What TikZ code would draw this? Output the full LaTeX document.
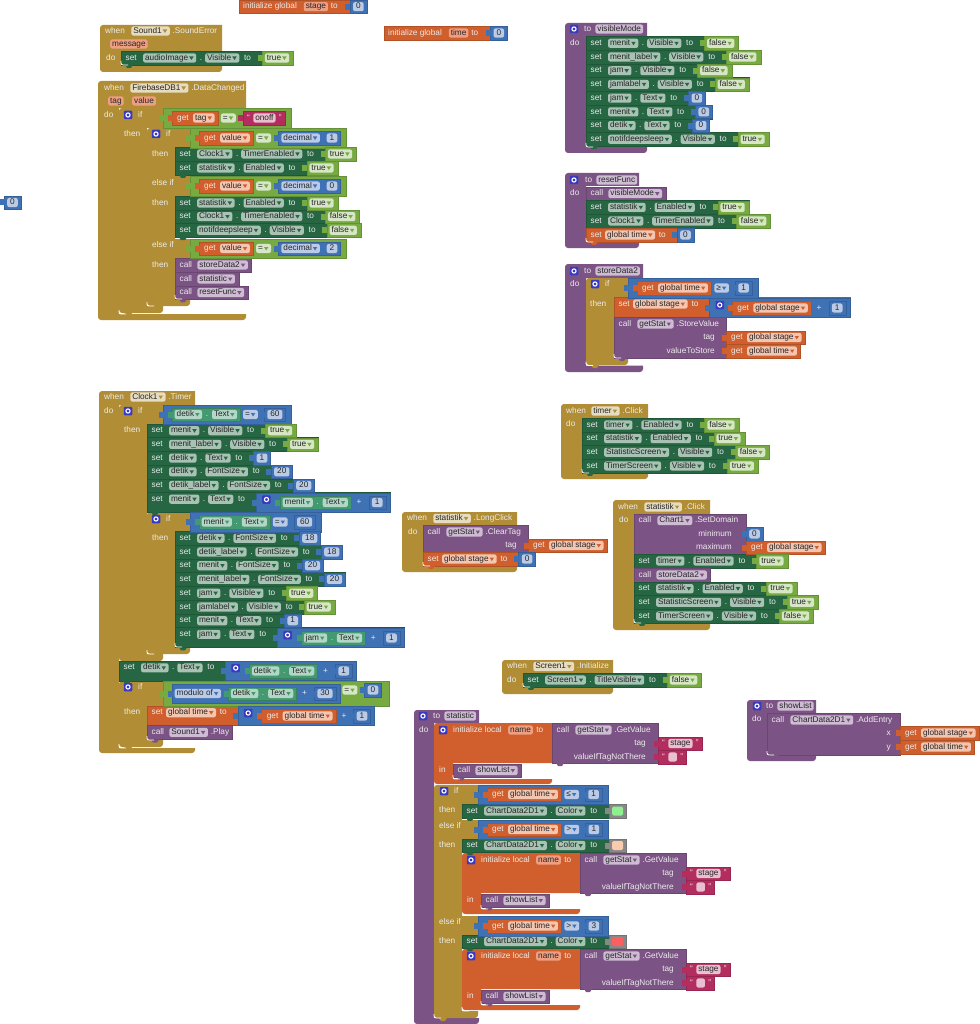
\documentclass[tikz,border=0pt]{standalone}
\usepackage{fontspec}
\setmainfont{Liberation Sans}
\pgfdeclarelayer{b0}\pgfdeclarelayer{b1}\pgfdeclarelayer{b2}
\pgfdeclarelayer{b3}\pgfdeclarelayer{b4}\pgfdeclarelayer{b5}
\pgfsetlayers{b0,b1,b2,b3,b4,b5,main}
\definecolor{bgol}{HTML}{B18E35}\definecolor{chol}{HTML}{E6DCC2}
\definecolor{bgpu}{HTML}{7C5385}\definecolor{chpu}{HTML}{CDBCD2}
\definecolor{bgor}{HTML}{D05F2D}\definecolor{chor}{HTML}{F3C6B2}
\definecolor{bgdg}{HTML}{266643}\definecolor{chdg}{HTML}{A8C2B3}
\definecolor{bgte}{HTML}{439970}\definecolor{chte}{HTML}{B4D6C6}
\definecolor{bglg}{HTML}{77AB41}\definecolor{chlg}{HTML}{D6E6C6}
\definecolor{bgbl}{HTML}{3F71B5}\definecolor{chbl}{HTML}{BBCBE6}
\definecolor{bgpk}{HTML}{B32D5E}\definecolor{chpk}{HTML}{E8C0CF}
\definecolor{bggy}{HTML}{888888}\definecolor{chgy}{HTML}{CCCCCC}
\definecolor{parc}{HTML}{EE9F82}\definecolor{gearc}{HTML}{3A3AC0}
\definecolor{swgreen}{HTML}{8EF08E}\definecolor{swpeach}{HTML}{F8CBAE}\definecolor{swred}{HTML}{FB6060}
\tikzset{
  blabel/.style={text=white!92!black,font=\fontsize{8.25}{9}\selectfont,inner sep=0pt,text height=6pt,text depth=1.7pt,anchor=west},
  chipn/.style={text=black!85,font=\fontsize{8.25}{9}\selectfont,inner xsep=2pt,inner ysep=.7pt,text height=6pt,text depth=1.7pt,anchor=west,rounded corners=2pt},
  gearn/.style={fill=gearc,inner sep=0pt,minimum size=8.5pt,rounded corners=1pt},
}
\newif\ifbump\bumptrue
\newcount\nc
\newdimen\curd
\gdef\cx{0}\def\cy{0}\def\hh{6.7}\def\dep{1}\def\curk{pu}
\makeatletter
\newcommand\adv{\pgfextractx{\curd}{\pgfpointanchor{n\the\nc}{east}}\edef\tmpx{\strip@pt\curd}\global\let\cx\tmpx}
\makeatother
\newcommand\pad[1]{\pgfmathsetmacro\tmpx{\cx+#1}\global\let\cx\tmpx}
% tokens of a row
\newcommand\lab[2][3]{\global\advance\nc by 1 \node[blabel] (n\the\nc) at (\cx+#1,\cy) {#2};\adv}
\newcommand\chp[2][3]{\global\advance\nc by 1 \node[chipn,fill=ch\curk] (n\the\nc) at (\cx+#1,\cy) {#2};\adv}
\newcommand\prmf[2][3]{\global\advance\nc by 1 \node[chipn,fill=parc] (n\the\nc) at (\cx+#1,\cy) {#2};\adv}
\newcommand\fld[2][3]{\global\advance\nc by 1 \node[chipn,fill=ch\curk] (n\the\nc) at (\cx+#1,\cy) {#2\kern6pt};\adv
  \fill[bg\curk] (\cx-7.2,\cy-1.5) -- (\cx-2.8,\cy-1.5) -- (\cx-5,\cy+2) -- cycle;}
\newcommand\gearat[2]{\global\advance\nc by 1 \node[gearn] (n\the\nc) at (#1,#2) {};\draw[white,line width=1.1pt] (n\the\nc) circle (2.1pt);}
\newcommand\gearf{\pgfmathsetmacro\tmpx{\cx+10.2}\gearat{\tmpx}{\cy-3}\adv}
\newcommand\swatch[1]{\global\advance\nc by 1 \node[fill=#1,anchor=west,inner sep=0pt,minimum width=11pt,minimum height=9pt,rounded corners=1.5pt] (n\the\nc) at (\cx+2.5,\cy) {};\adv}
\newcommand\tl[3]{\global\advance\nc by 1 \node[blabel] (n\the\nc) at (#1,#2) {#3};}
\newcommand\rl[3]{\global\advance\nc by 1 \node[blabel,anchor=east] (n\the\nc) at (#1,#2) {#3};}
\newcommand\prm[3]{\global\advance\nc by 1 \node[chipn,fill=parc] (n\the\nc) at (#1,#2) {#3};}
% value block, drawn behind its tokens
\newcommand\sub[3][11]{\begingroup\let\myhh\hh\def\hh{6.7}\let\myy\cy\edef\mylay{b\dep}\edef\dep{\the\numexpr\dep+1}\def\curk{#2}%
  \pgfmathsetmacro\mystart{\cx+#1}\global\let\cx\mystart
  #3
  \pgfmathsetmacro\myend{\cx+3}\global\let\cx\myend
  \begin{pgfonlayer}{\mylay}
  \filldraw[fill=bg#2,draw=bg#2!85!black,line width=.3pt] (\mystart,\myy-\myhh) rectangle (\myend,\myy+\myhh);
  \fill[bg#2] (\mystart-4.5,\myy-3) rectangle (\mystart+.5,\myy+3);
  \end{pgfonlayer}\endgroup}
\newcommand\at[3]{\begingroup\def\dep{2}\gdef\cx{#1}\def\cy{#2}#3\endgroup}
\newcommand\test[5][9.7]{\begingroup\def\dep{2}\gdef\cx{#3}\def\cy{#4}\def\hh{#1}\sub[0]{#2}{#5}\endgroup}
% statement block
\newcommand\blk[7][]{\begingroup\def\curk{#2}\def\dep{2}\gdef\cx{#3}\def\cy{#6}#7%
  \def\rr{#1}\ifx\rr\empty\let\rr\cx\fi
  \begin{pgfonlayer}{b1}
  \filldraw[fill=bg#2,draw=bg#2!85!black,line width=.3pt] (#3,#4) rectangle (\rr,#5);
  \ifbump\fill[bg#2] (#3+4,#5) -- (#3+6,#5+3) -- (#3+10,#5+3) -- (#3+12,#5) -- cycle;\fi
  \end{pgfonlayer}\endgroup}
\newcommand\hdr[4]{\begingroup\def\curk{#1}\gdef\cx{#2}\def\cy{#3}#4\endgroup}
% C-shaped block: k, x0, y0, header right, header bottom, column right, bar top, bar right, bottom
\newcommand\cont[9]{\begin{pgfonlayer}{b0}
  \fill[bg#1,rounded corners=3pt] (#4,#3) -- (#2,#3) -- (#2,#9) -- (#8,#9) [sharp corners] -- (#8,#7) -- (#6,#7) -- (#6,#5) -- (#4,#5) -- cycle;
  \ifbump\fill[bg#1] (#2+5,#9) -- (#2+7,#9+3) -- (#2+11,#9+3) -- (#2+13,#9) -- cycle;\fi
  \end{pgfonlayer}
  \draw[white,line width=.8pt,rounded corners=2pt] (#6,#7-4) -- (#6,#7) -- (#6+7,#7);}
\newcommand\contn[9]{\begingroup\bumpfalse\cont{#1}{#2}{#3}{#4}{#5}{#6}{#7}{#8}{#9}\endgroup}
\newcommand\elif[4]{\begin{pgfonlayer}{b0}\fill[bgol] (#1,#3) rectangle (#2,#4);\end{pgfonlayer}}
% values
\newcommand\vb[2][11]{\sub[#1]{lg}{\fld[2.5]{#2}\pad{1}}}
\newcommand\vnum[2][11]{\sub[#1]{bl}{\chp[3]{\kern1pt#2\kern1pt}}}
\newcommand\vget[2][9]{\sub[#1]{or}{\lab[5]{get}\fld[4]{#2}}}
\newcommand\vstr[2][7]{\sub[#1]{pk}{\lab[4]{“}\chp[3]{#2}\lab[3]{”}}}
\newcommand\vcomp[3][9]{\sub[#1]{te}{\fld[2.5]{#2}\lab[3.3]{.}\fld[3.5]{#3}}}
\newcommand\vcol[1]{\sub[12]{gy}{\swatch{#1}}}
\newcommand\vdec[1]{\sub[7]{bl}{\fld[3]{decimal}\chp[6.5]{\kern1pt#1\kern1pt}}}
\newcommand\mathb[2]{{\def\hh{9.6}\sub[11]{bl}{\gearf #1\lab[5.5]{+}\vnum[7]{#2}\pad{1}}}}
% rows
\newcommand\setcp[6][0]{\blk{dg}{#2}{#3-6.85}{#3+6.85+#1}{#3}{\lab[4.5]{set}\fld[6]{#4}\lab[3.3]{.}\fld[2.5]{#5}\lab[4.5]{to}#6}}
\newcommand\setg[5][0]{\blk{or}{#2}{#3-6.85}{#3+6.85+#1}{#3}{\lab[4.5]{set}\fld[3]{#4}\lab[3.5]{to}#5}}
\newcommand\callr[3]{\blk{pu}{#1}{#2-6.85}{#2+6.85}{#2}{\lab[4.5]{call}\fld[5]{#3}\pad{3.5}}}
\newcommand\initg[4]{\begingroup\bumpfalse\blk{or}{#1}{#2-6.7}{#2+6.7}{#2}{\lab[4]{initialize global}\prmf[6.5]{#3}\lab[2.5]{to}\vnum[12]{#4}}\endgroup}
% initialize local + getStat.GetValue + showList
\newcommand\initloc[2]{%
  \begingroup\bumpfalse\cont{or}{#1}{#2}{#1+118}{#2+40}{#1+19}{#2+56}{#1+118}{#2+61}\endgroup
  \gearat{#1+9}{#2+7}
  \hdr{or}{#1+19}{#2+7}{\lab[0]{initialize local}\prmf[6]{name}\lab[3]{to}}
  \tl{#1+5}{#2+47}{in}
  \callr{#1+19}{#2+47.5}{showList}
  \blk[#1+224]{pu}{#1+118}{#2}{#2+40}{#2+7}{\lab[4.5]{call}\fld[6]{getStat}\lab[2.5]{.GetValue}}
  \rl{#1+212}{#2+20.5}{tag}
  \rl{#1+212}{#2+34}{valueIfTagNotThere}
  \at{#1+224}{#2+20.5}{\vstr[0]{stage}}
  \at{#1+224}{#2+34}{\vstr[0]{\phantom{n}}}}
\begin{document}
\begin{tikzpicture}[x=1pt,y=-1pt]
\begin{pgfonlayer}{b0}\fill[white] (0,0) rectangle (979,1024);\end{pgfonlayer}
\useasboundingbox (0,0) rectangle (979,1024);
% globals
\initg{239}{6.7}{stage}{0}
\initg{384}{33}{time}{0}
\test[6.7]{bl}{4}{202.5}{\chp[3]{\kern1pt0\kern1pt}}
% Sound1.SoundError
\contn{ol}{100}{25}{222}{52}{121}{65}{222}{72}
\hdr{ol}{101}{31}{\lab[4]{when}\fld[6]{Sound1}\lab[2.5]{.SoundError}}
\prm{110}{44}{message}
\tl{106}{58}{do}
\setcp{121}{58}{audioImage}{Visible}{\vb{true}}
% FirebaseDB1.DataChanged
\contn{ol}{98}{81}{246}{108}{119}{314}{246}{320}
\hdr{ol}{98}{88}{\lab[6]{when}\fld[6]{FirebaseDB1}\lab[2.5]{.DataChanged}}
\prm{108}{101}{tag}
\prm{132}{101}{value}
\tl{104}{115}{do}
\cont{ol}{119}{108}{163}{128}{147}{306}{163}{313}
\gearat{128}{115}
\tl{138}{115}{if}
\tl{124}{134}{then}
\test[10]{lg}{163}{118}{\vget{tag}\fld[3]{=}\vstr{onoff}\pad{3}}
\cont{ol}{147}{128}{190}{148}{175}{299}{190}{306}
\gearat{156}{134}
\tl{166}{134}{if}
\tl{152}{154}{then}
\tl{152}{183}{else if}
\tl{152}{203}{then}
\tl{152}{245}{else if}
\tl{152}{265}{then}
\elif{175}{190}{176}{196}
\elif{175}{190}{239}{259}
\test[9.7]{lg}{190}{138}{\vget{value}\fld[3]{=}\vdec{1}\pad{3}}
\setcp{175}{154}{Clock1}{TimerEnabled}{\vb{true}}
\setcp{175}{168}{statistik}{Enabled}{\vb{true}}
\test[9.7]{lg}{190}{186}{\vget{value}\fld[3]{=}\vdec{0}\pad{3}}
\setcp{175}{203}{statistik}{Enabled}{\vb{true}}
\setcp{175}{216.6}{Clock1}{TimerEnabled}{\vb{false}}
\setcp{175}{230.3}{notifdeepsleep}{Visible}{\vb{false}}
\test[9.7]{lg}{190}{248.5}{\vget{value}\fld[3]{=}\vdec{2}\pad{3}}
\callr{175}{265}{storeData2}
\callr{175}{279}{statistic}
\callr{175}{292.5}{resetFunc}
% Clock1.Timer
\contn{ol}{99}{391}{195}{405}{119}{748}{195}{753}
\hdr{ol}{99}{397}{\lab[5]{when}\fld[6]{Clock1}\lab[2.5]{.Timer}}
\tl{104}{411}{do}
\cont{ol}{119}{405}{163}{424}{147}{654}{163}{661}
\gearat{128}{411}
\tl{138}{411}{if}
\tl{124}{430.7}{then}
\test{bl}{163}{414.5}{\vcomp{detik}{Text}\fld[2.5]{=}\vnum[6]{60}\pad{2.5}}
\setcp{147}{430.7}{menit}{Visible}{\vb{true}}
\setcp{147}{444.4}{menit\_label}{Visible}{\vb{true}}
\setcp{147}{458.1}{detik}{Text}{\vnum{1}}
\setcp{147}{471.8}{detik}{FontSize}{\vnum{20}}
\setcp{147}{485.5}{detik\_label}{FontSize}{\vnum{20}}
\setcp[6]{147}{499.2}{menit}{Text}{\def\cy{502.5}\mathb{\vcomp{menit}{Text}}{1}}
\cont{ol}{147}{512}{190}{532}{175}{647}{190}{654}
\gearat{156}{519}
\tl{166}{519}{if}
\tl{152}{538}{then}
\test{bl}{190}{522}{\vcomp{menit}{Text}\fld[2.5]{=}\vnum[6]{60}\pad{2.5}}
\setcp{175}{538.3}{detik}{FontSize}{\vnum{18}}
\setcp{175}{552}{detik\_label}{FontSize}{\vnum{18}}
\setcp{175}{565.7}{menit}{FontSize}{\vnum{20}}
\setcp{175}{579.4}{menit\_label}{FontSize}{\vnum{20}}
\setcp{175}{593.2}{jam}{Visible}{\vb{true}}
\setcp{175}{607}{jamlabel}{Visible}{\vb{true}}
\setcp{175}{620.7}{menit}{Text}{\vnum{1}}
\setcp[6]{175}{634.4}{jam}{Text}{\def\cy{638}\mathb{\vcomp{jam}{Text}}{1}}
\setcp[6]{119}{667.8}{detik}{Text}{\def\cy{671}\mathb{\vcomp{detik}{Text}}{1}}
\cont{ol}{119}{681}{163}{706}{147}{740}{163}{747}
\gearat{128}{687}
\tl{138}{687}{if}
\tl{124}{712.7}{then}
\test[12.5]{lg}{163}{693.5}{{\def\hh{9.8}\sub[9]{bl}{\fld[2.5]{modulo of}\vcomp[7]{detik}{Text}\lab[5.5]{+}\vnum[7]{30}\pad{1}}}\def\cy{690}\fld[2.5]{=}\vnum[7]{0}\pad{5}}
\setg[6]{147}{712.7}{global time}{\def\cy{716}\mathb{\vget{global time}}{1}}
\blk{pu}{147}{725.6}{739.5}{732.4}{\lab[4.5]{call}\fld[5]{Sound1}\lab[2.5]{.Play}\pad{3}}
% visibleMode
\contn{pu}{565}{23}{647}{36}{586}{147}{647}{153}
\gearat{574}{29}
\hdr{pu}{584}{29}{\lab[0]{to}\chp[4]{visibleMode}}
\tl{570}{43}{do}
\setcp{586}{43.3}{menit}{Visible}{\vb{false}}
\setcp{586}{57}{menit\_label}{Visible}{\vb{false}}
\setcp{586}{70.7}{jam}{Visible}{\vb{false}}
\setcp{586}{84.4}{jamlabel}{Visible}{\vb{false}}
\setcp{586}{98.1}{jam}{Text}{\vnum{0}}
\setcp{586}{111.9}{menit}{Text}{\vnum{0}}
\setcp{586}{125.6}{detik}{Text}{\vnum{0}}
\setcp{586}{139.3}{notifdeepsleep}{Visible}{\vb{true}}
% resetFunc
\contn{pu}{565}{173}{639}{186}{586}{242}{639}{248}
\gearat{574}{180}
\hdr{pu}{585}{180}{\lab[0]{to}\chp[4]{resetFunc}}
\tl{570}{193.5}{do}
\callr{586}{193.7}{visibleMode}
\setcp{586}{207.4}{statistik}{Enabled}{\vb{true}}
\setcp{586}{221}{Clock1}{TimerEnabled}{\vb{false}}
\setg{586}{235}{global time}{\vnum{0}}
% storeData2
\contn{pu}{565}{264}{643}{278}{586}{365.5}{643}{372}
\gearat{574}{271}
\hdr{pu}{584}{271}{\lab[0]{to}\chp[4]{storeData2}}
\tl{570}{284}{do}
\cont{ol}{586}{278}{628}{298}{614}{358}{628}{365}
\gearat{595}{284}
\tl{605}{284}{if}
\tl{590}{304}{then}
\test{bl}{628}{288}{\vget{global time}\fld[3]{≥}\vnum[6]{1}\pad{3}}
\setg[6]{614}{304}{global stage}{\def\cy{308}\mathb{\vget[8]{global stage}}{1}}
\blk[726]{pu}{614}{317}{358}{324}{\lab[4.5]{call}\fld[6]{getStat}\lab[2.5]{.StoreValue}}
\rl{715}{337.5}{tag}
\rl{715}{351}{valueToStore}
\at{726}{337.5}{\vget[0]{global stage}}
\at{726}{351}{\vget[0]{global time}}
% timer.Click
\contn{ol}{561}{404}{648}{418}{582}{473}{648}{479}
\hdr{ol}{561}{411}{\lab[5]{when}\fld[5]{timer}\lab[2.5]{.Click}}
\tl{566}{424.5}{do}
\setcp{582}{425}{timer}{Enabled}{\vb{false}}
\setcp{582}{438.6}{statistik}{Enabled}{\vb{true}}
\setcp{582}{452.3}{StatisticScreen}{Visible}{\vb{false}}
\setcp{582}{466}{TimerScreen}{Visible}{\vb{true}}
% statistik.LongClick
\contn{ol}{402}{512}{517}{525}{423}{566}{517}{572}
\hdr{ol}{402}{518.5}{\lab[5]{when}\fld[6]{statistik}\lab[2.5]{.LongClick}}
\tl{408}{532}{do}
\blk[528]{pu}{423}{525}{552}{532}{\lab[4.5]{call}\fld[6]{getStat}\lab[2.5]{.ClearTag}}
\rl{517}{545.5}{tag}
\at{528}{545.5}{\vget[0]{global stage}}
\setg{423}{559}{global stage}{\vnum{0}}
% statistik.Click
\contn{ol}{613}{500}{710}{514}{634}{623}{710}{630}
\hdr{ol}{613}{507}{\lab[5]{when}\fld[6]{statistik}\lab[2.5]{.Click}}
\tl{619}{520}{do}
\blk[746]{pu}{634}{514}{554}{520.5}{\lab[4.5]{call}\fld[6]{Chart1}\lab[2.5]{.SetDomain}}
\rl{732}{534}{minimum}
\rl{732}{547.5}{maximum}
\at{746}{534}{\vnum[0]{0}}
\at{746}{547.5}{\vget[0]{global stage}}
\setcp{634}{561}{timer}{Enabled}{\vb{true}}
\callr{634}{575}{storeData2}
\setcp{634}{588.7}{statistik}{Enabled}{\vb{true}}
\setcp{634}{602.3}{StatisticScreen}{Visible}{\vb{true}}
\setcp{634}{616}{TimerScreen}{Visible}{\vb{false}}
% Screen1.Initialize
\contn{ol}{502}{660}{613}{673}{523}{687}{613}{694}
\hdr{ol}{502}{666.5}{\lab[5]{when}\fld[6]{Screen1}\lab[2.5]{.Initialize}}
\tl{507}{680}{do}
\setcp{523}{680}{Screen1}{TitleVisible}{\vb{false}}
% showList
\contn{pu}{747}{700}{816}{713}{767}{755}{816}{761}
\gearat{757}{706}
\hdr{pu}{766}{706}{\lab[0]{to}\chp[4]{showList}}
\tl{752}{719}{do}
\blk[900]{pu}{767}{713}{755}{720}{\lab[4.5]{call}\fld[6]{ChartData2D1}\lab[2.5]{.AddEntry}}
\rl{891}{733}{x}
\rl{891}{747}{y}
\at{900}{733}{\vget[0]{global stage}}
\at{900}{747}{\vget[0]{global time}}
% statistic
\contn{pu}{414}{710}{479}{723}{434}{1018}{479}{1024}
\gearat{423}{716}
\hdr{pu}{433}{716}{\lab[0]{to}\chp[4]{statistic}}
\tl{419}{730}{do}
\initloc{434}{723}
\cont{ol}{434}{785}{478}{805}{462}{1011}{478}{1018}
\gearat{444}{791}
\tl{454}{791}{if}
\tl{439}{810}{then}
\tl{439}{826}{else if}
\tl{439}{845}{then}
\tl{439}{922}{else if}
\tl{439}{941}{then}
\elif{462}{478}{820}{840}
\elif{462}{478}{916}{936}
\test{bl}{478}{794.5}{\vget{global time}\fld[3]{≤}\vnum[6]{1}\pad{3}}
\setcp{462}{811}{ChartData2D1}{Color}{\vcol{swgreen}}
\test{bl}{478}{829.5}{\vget{global time}\fld[3]{>}\vnum[6]{1}\pad{3}}
\setcp{462}{845.5}{ChartData2D1}{Color}{\vcol{swpeach}}
\initloc{462}{853}
\test{bl}{478}{926}{\vget{global time}\fld[3]{>}\vnum[6]{3}\pad{3}}
\setcp{462}{941.5}{ChartData2D1}{Color}{\vcol{swred}}
\initloc{462}{949}
\end{tikzpicture}
\end{document}
